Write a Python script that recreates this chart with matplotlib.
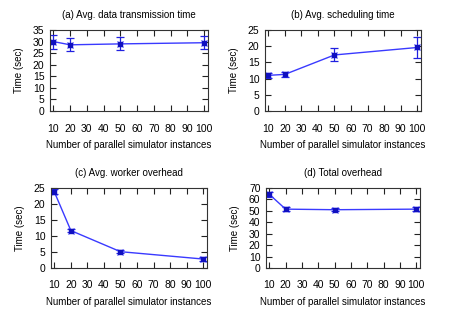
import numpy as np
import matplotlib.pyplot as plt

plt.rcParams['font.family'] = ['Liberation Sans', 'DejaVu Sans']
plt.rcParams['font.size'] = 7

instances = [10, 20, 50, 100]

# (a) avg. data transmission time
trans_mean = [30.0, 28.6, 29.0, 29.5]
trans_err = [3.0, 2.8, 2.8, 2.8]
# (b) avg. scheduling time
sched_mean = [11.0, 11.3, 17.3, 19.6]
sched_err = [0.8, 0.8, 2.0, 3.2]
# (c) avg. worker overhead
worker_mean = [23.8, 11.7, 5.1, 2.8]
worker_err = [0.8, 0.5, 0.5, 0.6]
# (d) total overhead
total_mean = [64.5, 51.5, 51.0, 51.5]
total_err = [2.0, 1.5, 1.5, 1.5]

panels = [
    ("(a) Avg. data transmission time", trans_mean, trans_err, 35, 5),
    ("(b) Avg. scheduling time", sched_mean, sched_err, 25, 5),
    ("(c) Avg. worker overhead", worker_mean, worker_err, 25, 5),
    ("(d) Total overhead", total_mean, total_err, 70, 10),
]

# axes boxes in pixels: left, top, right, bottom
boxes = [(50, 30, 208, 111), (265, 30, 421, 111),
         (51, 188, 207, 268), (266, 188, 420, 268)]

W, H = 474, 322
fig = plt.figure(figsize=(W / 100, H / 100), dpi=100)

for (title, mean, err, ymax, ystep), (l, t, r, b) in zip(panels, boxes):
    ax = fig.add_axes([l / W, 1 - b / H, (r - l) / W, (b - t) / H])
    ax.errorbar(instances, mean, yerr=err, color='#3a3aff', lw=1.0,
                ecolor='#2020e0', elinewidth=0.9, capsize=3, capthick=0.9,
                marker='s', ms=3, mfc='#1010c0', mec='#1010c0')
    ax.plot(instances, mean, ls='none', marker='x', ms=5, mew=0.8, color='#3030ff')
    ax.set_xlim(8, 102.3)
    ax.set_ylim(0, ymax)
    ax.set_xticks(np.arange(10, 101, 10))
    ax.set_yticks(np.arange(0, ymax + 1, ystep))
    ax.tick_params(direction='in', top=True, right=True, length=4, width=0.8,
                   labelsize=7.5, color='#222222')
    ax.tick_params(axis='x', pad=9)
    ax.tick_params(axis='y', pad=4)
    for s in ax.spines.values():
        s.set_linewidth(0.8)
        s.set_color('#333333')
    ax.set_title(title, fontsize=7, pad=9)
    ax.set_xlabel("Number of parallel simulator instances", fontsize=7, labelpad=5)
    ax.set_ylabel("Time (sec)", fontsize=7, labelpad=6)

fig.savefig('out.png', dpi=100)
